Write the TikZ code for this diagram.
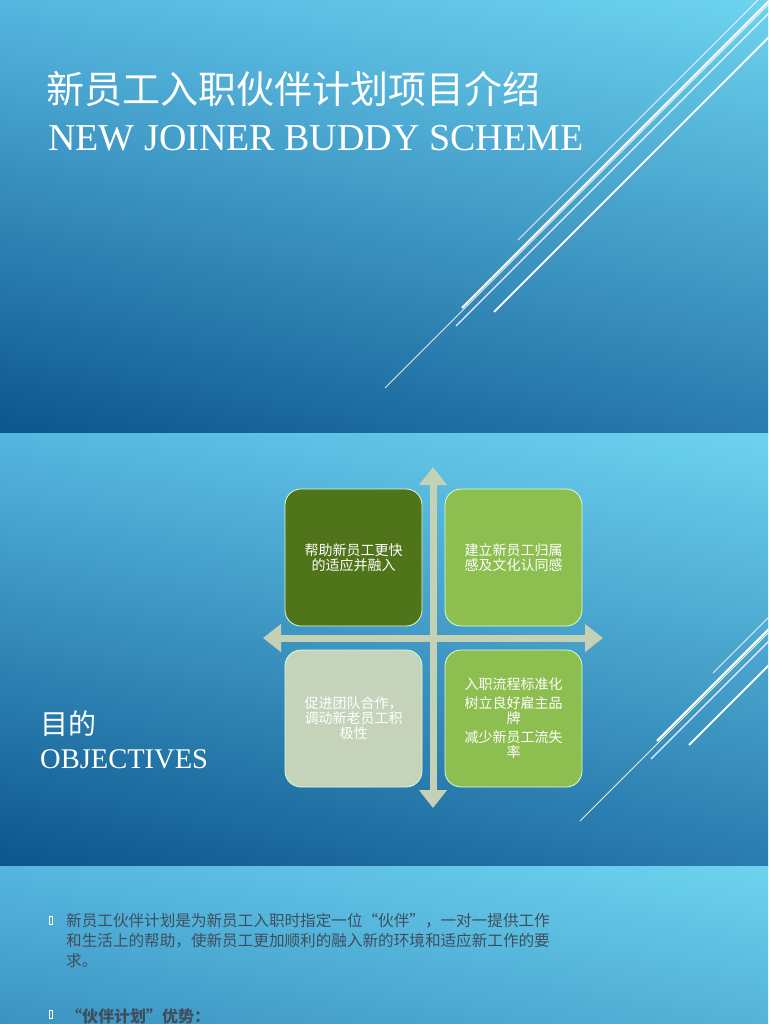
\documentclass[tikz,border=0pt]{standalone}
\usepackage{fontspec}
\setmainfont{Liberation Serif}
\newfontfamily\cjk{Noto Sans CJK SC}
\usetikzlibrary{arrows.meta,shadings}
\definecolor{cul}{HTML}{55B6DF}
\definecolor{cur}{HTML}{6DD3EF}
\definecolor{cll}{HTML}{0C558D}
\definecolor{clr}{HTML}{2A7BAF}
\definecolor{dkg}{HTML}{4F7419}
\definecolor{ltg}{HTML}{8CBE50}
\definecolor{pale}{HTML}{C6D3BB}
\definecolor{arrc}{HTML}{C4D1B5}
\definecolor{txtc}{HTML}{3F4E5C}
\tikzset{
  slidebg/.style={upper left=cul, upper right=cur, lower left=cll, lower right=clr},
  thinln/.style={draw=white, opacity=0.85, line width=0.9pt},
  dblln/.style={draw=white, opacity=0.95, line width=2.3pt},
  medln/.style={draw=white, opacity=0.9, line width=1.3pt},
  thkln/.style={draw=white, opacity=0.95, line width=2pt},
  qbox/.style={minimum width=137pt, minimum height=137pt, rounded corners=16pt,
    draw=white!85!green, line width=0.8pt, inner sep=0pt, text=white, align=center,
    font=\cjk\fontsize{14}{15}\selectfont},
  bigarrow/.style={arrc, line width=7pt,
    {Triangle[width=27pt,length=18pt]}-{Triangle[width=27pt,length=18pt]}},
  txt/.style={anchor=base west, inner sep=0pt},
  bul/.style={draw=white, line width=0.5pt, minimum width=3pt, minimum height=8pt, inner sep=0pt}
}
\newcommand\mydecolines{%
  \draw[thinln] (385,388) -- (775,-2);
  \draw[dblln] (462,308) -- (772,-2);
  \draw[medln] (456,326) -- (800,-18);
  \draw[thkln] (494,312) -- (830,-24);
  \draw[thinln] (518,240) -- (770,-12);
}
\begin{document}
\begin{tikzpicture}[x=1pt,y=-1pt]
\useasboundingbox (0,0) rectangle (768,1024);
\clip (0,0) rectangle (768,1024);
% slide 1
\shade[slidebg] (0,0) rectangle (768,433);
\begin{scope}
  \clip (0,0) rectangle (768,433);
  \mydecolines
\end{scope}
\node[txt, text=white, font=\cjk\fontsize{38}{38}\selectfont] (t1) at (46,104) {新员工入职伙伴计划项目介绍};
\node[txt, text=white, font=\fontsize{38}{38}\selectfont] (t2) at (48,151) {NEW JOINER BUDDY SCHEME};
% slide 2
\shade[slidebg] (0,433) rectangle (768,866);
\begin{scope}
  \clip (0,433) rectangle (768,866);
  \begin{scope}[shift={(195,433)}]
    \mydecolines
  \end{scope}
\end{scope}
\node[txt, text=white, font=\cjk\fontsize{28}{28}\selectfont] (o1) at (40,734) {目的};
\node[txt, text=white, font=\fontsize{28.5}{28.5}\selectfont] (o2) at (40,768) {OBJECTIVES};
\coordinate (vt) at (433,467);
\coordinate (vb) at (433,808);
\coordinate (hl) at (263,638);
\coordinate (hr) at (603,638);
\draw[bigarrow] (vt) -- (vb);
\draw[bigarrow] (hl) -- (hr);
\node[qbox, fill=dkg] (b1) at (353.5,557.5) {帮助新员工更快\\的适应并融入};
\node[qbox, fill=ltg] (b2) at (513.5,557.5) {建立新员工归属\\感及文化认同感};
\node[qbox, fill=pale] (b3) at (353.5,718.5) {促进团队合作，\\调动新老员工积\\极性};
\node[qbox, fill=ltg] (b4) at (513.5,718.5) {入职流程标准化\\[4pt]树立良好雇主品\\牌\\[4pt]减少新员工流失\\率};
% slide 3
\shade[slidebg] (0,866) rectangle (768,1299);
\node[bul] (bu1) at (50.5,920) {};
\node[txt, text=txtc, font=\cjk\fontsize{15.6}{20}\selectfont] (p1) at (66,926.5) {新员工伙伴计划是为新员工入职时指定一位“伙伴”，一对一提供工作};
\node[txt, text=txtc, font=\cjk\fontsize{15.6}{20}\selectfont] (p2) at (66,946.5) {和生活上的帮助，使新员工更加顺利的融入新的环境和适应新工作的要};
\node[txt, text=txtc, font=\cjk\fontsize{15.6}{20}\selectfont] (p3) at (66,966.5) {求。};
\node[bul] (bu2) at (50.5,1014) {};
\node[txt, text=txtc, font=\cjk\bfseries\fontsize{16}{16}\selectfont] (q1) at (66,1022) {“伙伴计划”优势：};
\end{tikzpicture}
\end{document}
